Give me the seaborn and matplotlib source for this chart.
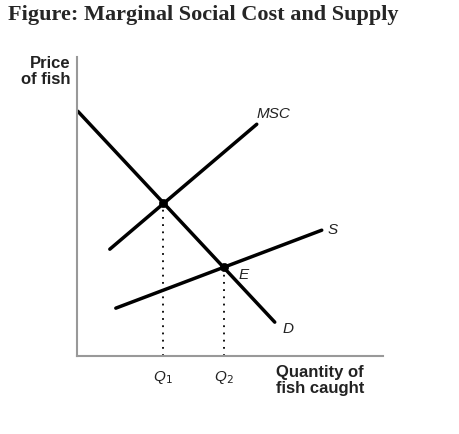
import matplotlib
matplotlib.use("Agg")
import matplotlib.pyplot as plt
import seaborn as sns
import pandas as pd

sns.set_style("white")
plt.rcParams['font.family'] = ['Liberation Sans', 'DejaVu Sans']

d_x = [1, 198]; d_y = [245, 34]
msc_x = [33, 180]; msc_y = [107, 232]
s_x = [39, 245]; s_y = [48, 126]
pts_x = [86, 147]; pts_y = [153, 89]
q_labels = ["Q$_1$", "Q$_2$"]

fig = plt.figure(figsize=(4.6, 4.35), dpi=100)
ax = fig.add_axes([0.167, 0.179, 0.665, 0.687])
for xs, ys in [(d_x, d_y), (msc_x, msc_y), (s_x, s_y)]:
    sns.lineplot(x=xs, y=ys, ax=ax, color='black', lw=2.5, sort=False)
sns.scatterplot(x=pts_x, y=pts_y, ax=ax, color='black', s=35, zorder=5, edgecolor='black')
for px, py in zip(pts_x, pts_y):
    ax.plot([px, px], [0, py], ls=(0, (1, 3)), color='black', lw=1.3)
ax.set_xlim(0, 306); ax.set_ylim(0, 299)
ax.set_xticks([]); ax.set_yticks([])
for s in ['top', 'right']:
    ax.spines[s].set_visible(False)
for s in ['left', 'bottom']:
    ax.spines[s].set_color('#999999'); ax.spines[s].set_linewidth(1.5)
kw = dict(fontsize=11, color='#222222', style='italic')
ax.text(180, 236, "MSC", ha='left', va='bottom', **kw)
ax.text(251, 127, "S", ha='left', va='center', **kw)
ax.text(162, 82, "E", ha='left', va='center', **kw)
ax.text(206, 28, "D", ha='left', va='center', **kw)
for px, lab in zip(pts_x, q_labels):
    ax.text(px, -12, lab, ha='center', va='top', **kw)
ax.text(199, -8, "Quantity of\nfish caught", ha='left', va='top', fontsize=12,
        fontweight='bold', color='#222222', linespacing=1.1)
ax.text(-6, 301, "Price\nof fish", ha='right', va='top', fontsize=12,
        fontweight='bold', color='#222222', linespacing=1.1)
fig.text(8/460, 1 - 15/435, "Figure: Marginal Social Cost and Supply", ha='left', va='center',
         fontsize=16, fontweight='bold', family='Liberation Serif')
fig.savefig("out.png", dpi=100)
